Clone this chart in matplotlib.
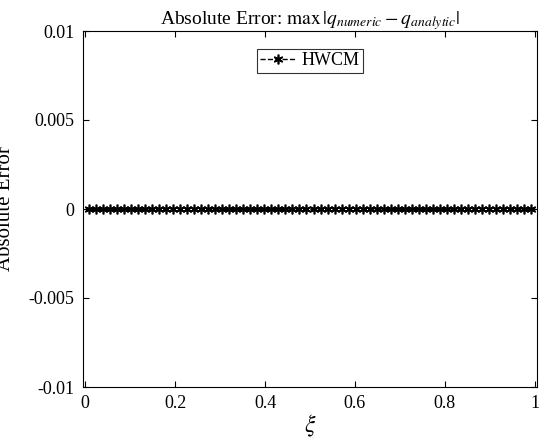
import matplotlib
matplotlib.use("Agg")
import matplotlib.pyplot as plt

plt.rcParams['font.family'] = ['Liberation Serif', 'DejaVu Serif']
plt.rcParams['mathtext.fontset'] = 'stix'

xi = [0.0078125, 0.0234375, 0.0390625, 0.0546875, 0.0703125, 0.0859375, 0.1015625, 0.1171875,
      0.1328125, 0.1484375, 0.1640625, 0.1796875, 0.1953125, 0.2109375, 0.2265625, 0.2421875,
      0.2578125, 0.2734375, 0.2890625, 0.3046875, 0.3203125, 0.3359375, 0.3515625, 0.3671875,
      0.3828125, 0.3984375, 0.4140625, 0.4296875, 0.4453125, 0.4609375, 0.4765625, 0.4921875,
      0.5078125, 0.5234375, 0.5390625, 0.5546875, 0.5703125, 0.5859375, 0.6015625, 0.6171875,
      0.6328125, 0.6484375, 0.6640625, 0.6796875, 0.6953125, 0.7109375, 0.7265625, 0.7421875,
      0.7578125, 0.7734375, 0.7890625, 0.8046875, 0.8203125, 0.8359375, 0.8515625, 0.8671875,
      0.8828125, 0.8984375, 0.9140625, 0.9296875, 0.9453125, 0.9609375, 0.9765625, 0.9921875]
abs_err = [0.0] * len(xi)
yticks = [-0.01, -0.005, 0, 0.005, 0.01]
ytick_labels = ['-0.01', '-0.005', '0', '0.005', '0.01']
xticks = [0, 0.2, 0.4, 0.6, 0.8, 1]
xtick_labels = ['0', '0.2', '0.4', '0.6', '0.8', '1']

fig = plt.figure(figsize=(5.5, 4.47), dpi=100)
ax = fig.add_axes([83/550, 1-387/447, 454/550, 356/447])
ax.plot(xi, abs_err, linestyle='--', marker=(6, 2, 0), color='black', lw=1.0, ms=7,
        markeredgewidth=1.2, label='HWCM')
ax.set_xlim(-0.005, 1.005)
ax.set_ylim(-0.01, 0.01)
ax.set_yticks(yticks)
ax.set_yticklabels(ytick_labels)
ax.set_xticks(xticks)
ax.set_xticklabels(xtick_labels)
ax.tick_params(direction='in', labelsize=13, top=True, right=True, length=4, pad=6)
ax.set_xlabel(r'$\xi$', fontsize=17, labelpad=0)
ax.set_ylabel('Absolute Error', fontsize=15, labelpad=10)
ax.set_title(r'Absolute Error: $\max\,|q_{numeric} - q_{analytic}|$', fontsize=14, pad=5)
leg = ax.legend(loc='upper center', bbox_to_anchor=(0.5, 0.95), fontsize=13,
                fancybox=False, edgecolor='black', handlelength=2.0, handletextpad=0.3,
                borderpad=0.2, borderaxespad=0)
leg.get_frame().set_linewidth(0.8)
fig.savefig('out.png', dpi=100)
